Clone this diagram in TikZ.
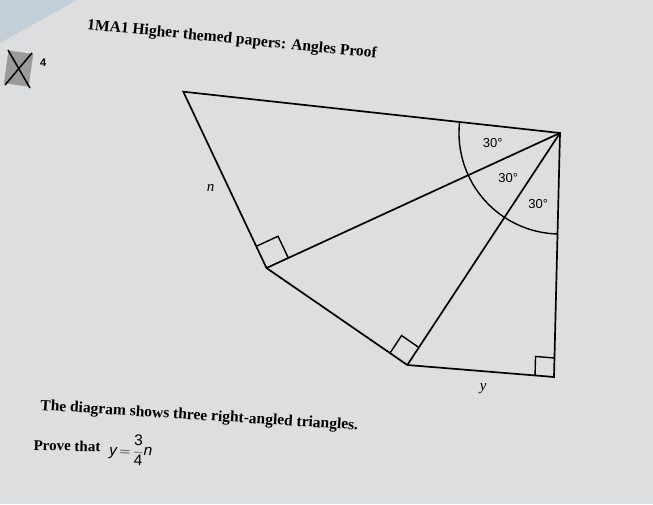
\documentclass[tikz,border=0pt]{standalone}
\usepackage{fontspec}
\setmainfont{Liberation Serif}
\newfontfamily\lsans{Liberation Sans}
\usetikzlibrary{calc}
\tikzset{
  edge/.style={line width=1.7pt, line join=miter},
  rmark/.style={line width=1.4pt},
  anglab/.style={font=\lsans\fontsize{13}{13}\selectfont, inner sep=0pt},
  varlab/.style={font=\fontsize{15}{15}\selectfont\itshape, inner sep=0pt},
}
\definecolor{paperc}{HTML}{DCDEE0}
\definecolor{deskc}{HTML}{C3CFD6}
\definecolor{iconc}{HTML}{9A9A9A}
\begin{document}
\begin{tikzpicture}[x=1pt,y=1pt]
\useasboundingbox (0,0) rectangle (653,504);
\fill[paperc] (0,0) rectangle (653,504);
\fill[deskc] (0,461) -- (77,504) -- (0,504) -- cycle;

% header
\node[anchor=base west, rotate=-5.6, inner sep=0pt, font=\bfseries\fontsize{15.6}{15.6}\selectfont] (head) at (86.7,474.7) {1MA1 Higher themed papers: Angles Proof};
\fill[iconc, rotate around={-8:(18,435)}] (6,419) rectangle (31,452);
\draw[line width=1.5pt] (8,454) -- (30,416);
\draw[line width=1.5pt] (32,451) -- (5,419);
\node[anchor=center, inner sep=0pt, font=\lsans\bfseries\fontsize{11}{11}\selectfont] (qnum) at (43.3,441) {4};

% geometry
\coordinate (A) at (183.3,412.3);
\coordinate (B) at (266.5,236);
\coordinate (C) at (407.3,139);
\coordinate (D) at (554,127);
\coordinate (P) at (560,371);

\draw[edge] (P) -- (A) -- (B) -- (C) -- (D) -- cycle;
\draw[edge] (B) -- (P);
\draw[edge] (C) -- (P);

% right-angle marks
\draw[rmark] ($(B)!24pt!(A)$) -- ++($(B)!24pt!(P)-(B)$) -- ($(B)!24pt!(P)$);
\draw[rmark] ($(C)!21pt!(B)$) -- ++($(C)!21pt!(P)-(C)$) -- ($(C)!21pt!(P)$);
\draw[rmark] ($(D)!19pt!(C)$) -- ++($(D)!19pt!(P)-(D)$) -- ($(D)!19pt!(P)$);

% angle arc
\draw[line width=1.4pt] ([shift={(173.7:101pt)}]P) arc[start angle=173.7, end angle=268.6, radius=101pt];

\node[anglab] (a1) at (492.7,360.7) {30°};
\node[anglab] (a2) at (508.3,325.7) {30°};
\node[anglab] (a3) at (538.3,299.7) {30°};

\node[varlab] (n) at (210.7,316.3) {n};
\node[varlab] (y) at (483.3,115.7) {y};

% question text
\node[anchor=base west, rotate=-3.6, inner sep=0pt, font=\bfseries\fontsize{15.5}{15.5}\selectfont] (t1) at (40,94) {The diagram shows three right-angled triangles.};
\node[anchor=base west, rotate=-1.5, inner sep=0pt, font=\bfseries\fontsize{15}{15}\selectfont] (t2) at (33.3,54) {Prove that};
\node[anchor=base west, rotate=-1.5, inner sep=0pt, font=\lsans\fontsize{15.5}{15.5}\selectfont] (eq) at (109,49) {$\displaystyle\mbox{\itshape y}\,{=}\,\frac{\mbox{3}}{\mbox{4}}\mbox{\itshape n}$};
\end{tikzpicture}
\end{document}
